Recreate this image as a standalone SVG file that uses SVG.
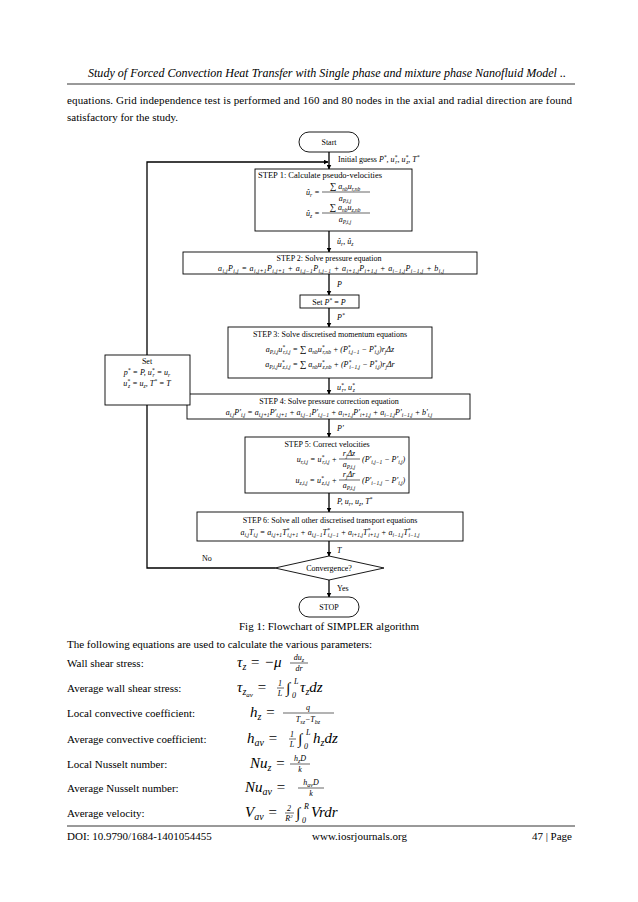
<svg xmlns="http://www.w3.org/2000/svg" width="638" height="902" viewBox="0 0 638 902">
<style>
text{font-family:"Liberation Serif","Times New Roman",serif;fill:#000}
.f8{font-size:8px}
.f11{font-size:11px}
.i{font-style:italic}
.s{font-size:5.5px;baseline-shift:-1.8px}
.u{font-size:5.5px;baseline-shift:3px}
.sg{font-size:9px;font-style:normal}
.box{fill:#fff;stroke:#000;stroke-width:0.9}
.ln{stroke:#000;stroke-width:1.3;fill:none}
.fr{stroke:#000;stroke-width:0.6}
.eq{font-size:15px;font-style:italic}
.es{font-size:10px;baseline-shift:-3px}
.ess{font-size:7px;baseline-shift:-5px}
.sm{font-size:8px;font-style:italic}
.sms{font-size:6px;baseline-shift:-2px}
.rule{stroke:#000;stroke-width:0.8}
</style>
<defs>
<marker id="arr" viewBox="0 0 10 10" refX="9" refY="5" markerWidth="5" markerHeight="5" orient="auto" markerUnits="userSpaceOnUse">
<path d="M0,0 L10,5 L0,10 z" fill="#000"/>
</marker>
</defs>
<rect width="638" height="902" fill="#fff"/>

<g id="page-header">
<text x="327" y="77" font-size="12" font-style="italic" text-anchor="middle" textLength="478" lengthAdjust="spacingAndGlyphs">Study of Forced Convection Heat Transfer with Single phase and mixture phase Nanofluid Model ..</text>
<line class="rule" x1="67" y1="84" x2="575" y2="84"/>
<text class="f11" x="67" y="104" textLength="505" lengthAdjust="spacing">equations. Grid independence test is performed and 160 and 80 nodes in the axial and radial direction are found</text>
<text class="f11" x="67" y="121">satisfactory for the study.</text>
</g>

<g id="connectors">
<line class="ln" x1="329" y1="152" x2="329" y2="169" marker-end="url(#arr)"/>
<line class="ln" x1="329" y1="231" x2="329" y2="252" marker-end="url(#arr)"/>
<line class="ln" x1="329" y1="274" x2="329" y2="295" marker-end="url(#arr)"/>
<line class="ln" x1="329" y1="308" x2="329" y2="327" marker-end="url(#arr)"/>
<line class="ln" x1="329" y1="378" x2="329" y2="394" marker-end="url(#arr)"/>
<line class="ln" x1="329" y1="419" x2="329" y2="437" marker-end="url(#arr)"/>
<line class="ln" x1="329" y1="493" x2="329" y2="512" marker-end="url(#arr)"/>
<line class="ln" x1="329" y1="541" x2="329" y2="556" marker-end="url(#arr)"/>
<line class="ln" x1="329" y1="580" x2="329" y2="597" marker-end="url(#arr)"/>
<path class="ln" d="M275,568 H147 V162 H328" marker-end="url(#arr)"/>
<text class="f8 i" x="338" y="162"><tspan font-style="normal">Initial guess </tspan>P<tspan class="u">*</tspan>, u<tspan class="u">*</tspan><tspan class="s" dx="-2">r</tspan>, u<tspan class="u">*</tspan><tspan class="s" dx="-2">z</tspan>, T<tspan class="u">*</tspan></text>
<text class="f8 i" x="337" y="244">û<tspan class="s">r</tspan>, û<tspan class="s">z</tspan></text>
<text class="f8 i" x="337" y="287">P</text>
<text class="f8 i" x="337" y="320">P<tspan class="u">*</tspan></text>
<text class="f8 i" x="337" y="390">u<tspan class="u">*</tspan><tspan class="s" dx="-2">r</tspan>, u<tspan class="u">*</tspan><tspan class="s" dx="-2">z</tspan></text>
<text class="f8 i" x="337" y="431">P'</text>
<text class="f8 i" x="337" y="504">P, u<tspan class="s">r</tspan>, u<tspan class="s">z</tspan>, T<tspan class="u">*</tspan></text>
<text class="f8 i" x="337" y="553">T</text>
<text class="f8" x="202" y="561">No</text>
<text class="f8" x="337" y="591">Yes</text>
</g>

<g id="start">
<rect class="box" x="299" y="132" width="60" height="20" rx="10"/>
<text class="f8" x="329" y="145" text-anchor="middle">Start</text>
</g>

<g id="step1">
<rect class="box" x="255" y="169" width="157" height="62"/>
<text x="258" y="178" font-size="9" textLength="124" lengthAdjust="spacingAndGlyphs">STEP 1: Calculate pseudo-velocities</text>
<text class="f8 i" x="306" y="195">û<tspan class="s">r</tspan> =</text>
<text class="f8 i" x="345" y="189" text-anchor="middle"><tspan class="sg">∑</tspan> a<tspan class="s">nb</tspan>u<tspan class="s">r,nb</tspan></text>
<line class="fr" x1="322" y1="192" x2="370" y2="192"/>
<text class="f8 i" x="345" y="201" text-anchor="middle">a<tspan class="s">P,i,j</tspan></text>
<text class="f8 i" x="306" y="216">û<tspan class="s">z</tspan> =</text>
<text class="f8 i" x="345" y="210" text-anchor="middle"><tspan class="sg">∑</tspan> a<tspan class="s">nb</tspan>u<tspan class="s">z,nb</tspan></text>
<line class="fr" x1="322" y1="213" x2="370" y2="213"/>
<text class="f8 i" x="345" y="222" text-anchor="middle">a<tspan class="s">P,i,j</tspan></text>
</g>

<g id="step2">
<rect class="box" x="183" y="252" width="294" height="22"/>
<text class="f8" x="329" y="261" text-anchor="middle">STEP 2: Solve pressure equation</text>
<text class="f8 i" x="218" y="271" textLength="226" lengthAdjust="spacing">a<tspan class="s">i,j</tspan>P<tspan class="s">i,j</tspan> = a<tspan class="s">i,j+1</tspan>P<tspan class="s">i,j+1</tspan> + a<tspan class="s">i,j−1</tspan>P<tspan class="s">i,j−1</tspan> + a<tspan class="s">i+1,j</tspan>P<tspan class="s">i+1,j</tspan> + a<tspan class="s">i−1,j</tspan>P<tspan class="s">i−1,j</tspan> + b<tspan class="s">i,j</tspan></text>
</g>

<g id="set-p">
<rect class="box" x="300" y="295" width="59" height="13"/>
<text class="f8" x="329" y="305" text-anchor="middle">Set <tspan font-style="italic">P</tspan><tspan class="u">*</tspan> = <tspan font-style="italic">P</tspan></text>
</g>

<g id="step3">
<rect class="box" x="228" y="327" width="204" height="51"/>
<text class="f8" x="330" y="337" text-anchor="middle">STEP 3: Solve discretised momentum equations</text>
<text class="f8 i" x="330" y="352" text-anchor="middle">a<tspan class="s">P,i,j</tspan>u<tspan class="u">*</tspan><tspan class="s" dx="-2">r,i,j</tspan> = <tspan class="sg" font-size="13">∑</tspan> a<tspan class="s">nb</tspan>u<tspan class="u">*</tspan><tspan class="s" dx="-2">r,nb</tspan> + (P<tspan class="u">*</tspan><tspan class="s" dx="-2">i,j−1</tspan> − P<tspan class="u">*</tspan><tspan class="s" dx="-2">i,j</tspan>)r<tspan class="s">j</tspan>Δz</text>
<text class="f8 i" x="330" y="367" text-anchor="middle">a<tspan class="s">P,i,j</tspan>u<tspan class="u">*</tspan><tspan class="s" dx="-2">z,i,j</tspan> = <tspan class="sg" font-size="13">∑</tspan> a<tspan class="s">nb</tspan>u<tspan class="u">*</tspan><tspan class="s" dx="-2">z,nb</tspan> + (P<tspan class="u">*</tspan><tspan class="s" dx="-2">i−1,j</tspan> − P<tspan class="u">*</tspan><tspan class="s" dx="-2">i,j</tspan>)r<tspan class="s">j</tspan>Δr</text>
</g>

<g id="step4">
<rect class="box" x="187" y="394" width="283" height="25"/>
<text class="f8" x="329" y="404" text-anchor="middle">STEP 4: Solve pressure correction equation</text>
<text class="f8 i" x="329" y="415" text-anchor="middle">a<tspan class="s">i,j</tspan>P'<tspan class="s">i,j</tspan> = a<tspan class="s">i,j+1</tspan>P'<tspan class="s">i,j+1</tspan> + a<tspan class="s">i,j−1</tspan>P'<tspan class="s">i,j−1</tspan> + a<tspan class="s">i+1,j</tspan>P'<tspan class="s">i+1,j</tspan> + a<tspan class="s">i−1,j</tspan>P'<tspan class="s">i−1,j</tspan> + b'<tspan class="s">i,j</tspan></text>
</g>

<g id="step5">
<rect class="box" x="245" y="437" width="164" height="56"/>
<text class="f8" x="327" y="447" text-anchor="middle">STEP 5: Correct velocities</text>
<text class="f8 i" x="337" y="462" text-anchor="end">u<tspan class="s">r,i,j</tspan> = u<tspan class="u">*</tspan><tspan class="s" dx="-2">r,i,j</tspan> +</text>
<text class="f8 i" x="349" y="456" text-anchor="middle">r<tspan class="s">j</tspan>Δz</text>
<line class="fr" x1="339" y1="459" x2="360" y2="459"/>
<text class="f8 i" x="349" y="467" text-anchor="middle">a<tspan class="s">P,i,j</tspan></text>
<text class="f8 i" x="362" y="462">(P'<tspan class="s">i,j−1</tspan> − P'<tspan class="s">i,j</tspan>)</text>
<text class="f8 i" x="337" y="483" text-anchor="end">u<tspan class="s">z,i,j</tspan> = u<tspan class="u">*</tspan><tspan class="s" dx="-2">z,i,j</tspan> +</text>
<text class="f8 i" x="349" y="477" text-anchor="middle">r<tspan class="s">j</tspan>Δr</text>
<line class="fr" x1="339" y1="480" x2="360" y2="480"/>
<text class="f8 i" x="349" y="488" text-anchor="middle">a<tspan class="s">P,i,j</tspan></text>
<text class="f8 i" x="362" y="483">(P'<tspan class="s">i−1,j</tspan> − P'<tspan class="s">i,j</tspan>)</text>
</g>

<g id="step6">
<rect class="box" x="197" y="512" width="266" height="29"/>
<text class="f8" x="330" y="523" text-anchor="middle">STEP 6: Solve all other discretised transport equations</text>
<text class="f8 i" x="330" y="535" text-anchor="middle">a<tspan class="s">i,j</tspan>T<tspan class="s">i,j</tspan> = a<tspan class="s">i,j+1</tspan>T<tspan class="u">*</tspan><tspan class="s" dx="-2">i,j+1</tspan> + a<tspan class="s">i,j−1</tspan>T<tspan class="u">*</tspan><tspan class="s" dx="-2">i,j−1</tspan> + a<tspan class="s">i+1,j</tspan>T<tspan class="u">*</tspan><tspan class="s" dx="-2">i+1,j</tspan> + a<tspan class="s">i−1,j</tspan>T<tspan class="u">*</tspan><tspan class="s" dx="-2">i−1,j</tspan></text>
</g>

<g id="convergence">
<polygon class="box" points="275,568 329,556 384,568 329,580"/>
<text class="f8" x="329" y="571" text-anchor="middle">Convergence?</text>
</g>

<g id="stop">
<rect class="box" x="299" y="597" width="60" height="20" rx="10"/>
<text class="f8" x="329" y="610" text-anchor="middle">STOP</text>
</g>

<g id="set-update">
<rect class="box" x="105" y="355" width="85" height="50"/>
<text class="f8" x="147" y="364" text-anchor="middle">Set</text>
<text class="f8 i" x="147" y="375" text-anchor="middle">p<tspan class="u">*</tspan> = P, u<tspan class="u">*</tspan><tspan class="s" dx="-2">r</tspan> = u<tspan class="s">r</tspan></text>
<text class="f8 i" x="147" y="386" text-anchor="middle">u<tspan class="u">*</tspan><tspan class="s" dx="-2">z</tspan> = u<tspan class="s">z</tspan>, T<tspan class="u">*</tspan> = T</text>
</g>

<g id="caption">
<text class="f11" x="329" y="630" text-anchor="middle">Fig 1:  Flowchart of SIMPLER algorithm</text>
<text class="f11" x="67" y="648">The following equations are used to calculate the various parameters:</text>
</g>

<g id="equations">
<text class="f11" x="67" y="667">Wall shear stress:</text>
<text class="eq" x="237" y="667">τ<tspan class="es">z</tspan> = −μ</text>
<text class="sm" x="299" y="660" text-anchor="middle">du<tspan class="sms">z</tspan></text>
<line class="fr" x1="290" y1="663" x2="308" y2="663"/>
<text class="sm" x="299" y="671" text-anchor="middle">dr</text>

<text class="f11" x="67" y="692">Average wall shear stress:</text>
<text class="eq" x="237" y="692">τ<tspan class="es">z</tspan><tspan class="ess">av</tspan> = </text>
<text class="sm" x="280" y="686" text-anchor="middle">1</text>
<line class="fr" x1="277" y1="688" x2="284" y2="688"/>
<text class="sm" x="280" y="696" text-anchor="middle">L</text>
<text class="eq" x="286" y="693" font-style="normal">∫</text>
<text class="sm" x="292" y="698">0</text>
<text class="sm" x="294" y="684">L</text>
<text class="eq" x="300" y="692">τ<tspan class="es">z</tspan>dz</text>

<text class="f11" x="67" y="717">Local convective coefficient:</text>
<text class="eq" x="250" y="717">h<tspan class="es">z</tspan> =</text>
<text class="sm" x="308" y="710" text-anchor="middle">q</text>
<line class="fr" x1="283" y1="713" x2="334" y2="713"/>
<text class="sm" x="308" y="722" text-anchor="middle">T<tspan class="sms">s</tspan><tspan class="sms" font-size="4.5px">z</tspan>−T<tspan class="sms">b</tspan><tspan class="sms" font-size="4.5px">z</tspan></text>

<text class="f11" x="67" y="743">Average convective coefficient:</text>
<text class="eq" x="247" y="743">h<tspan class="es">av</tspan> =</text>
<text class="sm" x="292" y="737" text-anchor="middle">1</text>
<line class="fr" x1="289" y1="739" x2="296" y2="739"/>
<text class="sm" x="292" y="747" text-anchor="middle">L</text>
<text class="eq" x="298" y="744" font-style="normal">∫</text>
<text class="sm" x="304" y="749">0</text>
<text class="sm" x="306" y="735">L</text>
<text class="eq" x="313" y="743">h<tspan class="es">z</tspan>dz</text>

<text class="f11" x="67" y="768">Local Nusselt number:</text>
<text class="eq" x="250" y="768">Nu<tspan class="es">z</tspan> =</text>
<text class="sm" x="300" y="761" text-anchor="middle">h<tspan class="sms">z</tspan>D</text>
<line class="fr" x1="290" y1="764" x2="310" y2="764"/>
<text class="sm" x="300" y="772" text-anchor="middle">k</text>

<text class="f11" x="67" y="792">Average Nusselt number:</text>
<text class="eq" x="245" y="792">Nu<tspan class="es">av</tspan> =</text>
<text class="sm" x="311" y="785" text-anchor="middle">h<tspan class="sms">av</tspan>D</text>
<line class="fr" x1="298" y1="788" x2="324" y2="788"/>
<text class="sm" x="311" y="796" text-anchor="middle">k</text>

<text class="f11" x="67" y="817">Average velocity:</text>
<text class="eq" x="245" y="817">V<tspan class="es">av</tspan> =</text>
<text class="sm" x="289" y="811" text-anchor="middle">2</text>
<line class="fr" x1="285" y1="813" x2="294" y2="813"/>
<text class="sm" x="289" y="821" text-anchor="middle">R<tspan font-size="5px" baseline-shift="3px">2</tspan></text>
<text class="eq" x="296" y="818" font-style="normal">∫</text>
<text class="sm" x="302" y="823">0</text>
<text class="sm" x="304" y="809">R</text>
<text class="eq" x="311" y="817">Vrdr</text>
</g>

<g id="page-footer">
<line class="rule" x1="67" y1="826" x2="575" y2="826"/>
<text class="f11" x="67" y="840">DOI: 10.9790/1684-1401054455</text>
<text class="f11" x="312" y="840">www.iosrjournals.org</text>
<text class="f11" x="572" y="840" text-anchor="end">47 | Page</text>
</g>
</svg>
